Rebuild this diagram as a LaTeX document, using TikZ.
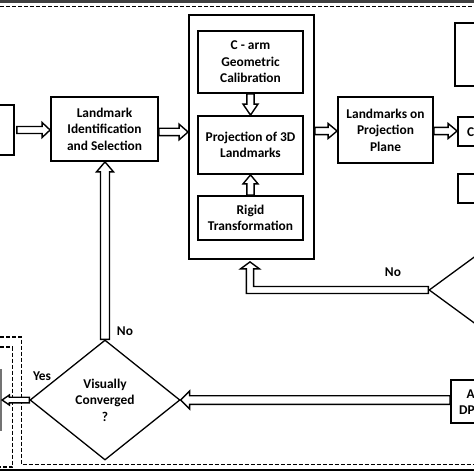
\documentclass[tikz,border=0pt]{standalone}
\usepackage{fontspec}
\setmainfont{Carlito}
\usetikzlibrary{shapes.geometric,calc}
\newcommand\lbl{\fontsize{13.4bp}{16.5bp}\selectfont\bfseries}
% hollow block arrows: #1 start, #2 tip, #3 shaft half width, #4 head half width, #5 head length
\newcommand\arR[5]{\draw[blk] let \p1=(#1), \p2=(#2) in
  ({\x1},{\y1+#3}) -- ({\x2-#5},{\y1+#3}) -- ({\x2-#5},{\y1+#4}) -- ({\x2},{\y1})
  -- ({\x2-#5},{\y1-#4}) -- ({\x2-#5},{\y1-#3}) -- ({\x1},{\y1-#3}) -- cycle;}
\newcommand\arL[5]{\draw[blk] let \p1=(#1), \p2=(#2) in
  ({\x1},{\y1+#3}) -- ({\x2+#5},{\y1+#3}) -- ({\x2+#5},{\y1+#4}) -- ({\x2},{\y1})
  -- ({\x2+#5},{\y1-#4}) -- ({\x2+#5},{\y1-#3}) -- ({\x1},{\y1-#3}) -- cycle;}
\newcommand\arU[5]{\draw[blk] let \p1=(#1), \p2=(#2) in
  ({\x1+#3},{\y1}) -- ({\x1+#3},{\y2-#5}) -- ({\x1+#4},{\y2-#5}) -- ({\x1},{\y2})
  -- ({\x1-#4},{\y2-#5}) -- ({\x1-#3},{\y2-#5}) -- ({\x1-#3},{\y1}) -- cycle;}
\newcommand\arD[5]{\draw[blk] let \p1=(#1), \p2=(#2) in
  ({\x1+#3},{\y1}) -- ({\x1+#3},{\y2+#5}) -- ({\x1+#4},{\y2+#5}) -- ({\x1},{\y2})
  -- ({\x1-#4},{\y2+#5}) -- ({\x1-#3},{\y2+#5}) -- ({\x1-#3},{\y1}) -- cycle;}
\begin{document}
\begin{tikzpicture}[x=1bp,y=-1bp,
  box/.style={draw, line width=1.8bp, inner sep=0pt, align=center, font=\lbl},
  sz/.style 2 args={minimum width=#1bp, minimum height=#2bp},
  blk/.style={draw, line width=1.4bp, fill=white, line join=miter},
  dia/.style={draw, diamond, line width=1.3bp, inner sep=0pt, align=center, font=\lbl},
  dsh/.style={line width=1.2bp, dash pattern=on 4bp off 2bp},
  lab/.style={font=\lbl, inner sep=0pt}]
\useasboundingbox (0,0) rectangle (474,474);
\fill[white] (0,0) rectangle (474,474);
% frame lines
\draw[line width=2.6bp, black!75] (0,1.3) -- (474,1.3);
\draw[dsh] (0,6.5) -- (474,6.5);
\draw[line width=1.5bp] (0,470) -- (474,470);
\draw[dsh] (0,337) -- (21.5,337) -- (21.5,464.5) -- (474,464.5);
\draw[dsh] (0,347) -- (12.5,347) -- (12.5,467) -- (0,467);
% boxes
\node[box, sz={40}{50}] (leftbox) at (-6,130) {};
\node[box, sz={107}{64}] (lm) at (104.5,129) {Landmark\\Identification\\and Selection};
\node[box, sz={125}{244}] (big) at (251.5,137) {};
\node[box, sz={105}{62}] (cal) at (250.5,62) {C - arm\\Geometric\\Calibration};
\node[box, sz={105}{58}] (proj) at (250.5,145) {Projection of 3D\\Landmarks};
\node[box, sz={105}{44}] (rigid) at (250.5,218) {Rigid\\Transformation};
\node[box, sz={95}{66}] (lpp) at (385.5,130) {Landmarks on\\Projection\\Plane};
\node[box, sz={44}{29}] (cbox) at (480,131.5) {};
\node[lab, anchor=east] (ctext) at (474.3,132) {C};
\node[box, sz={47}{63}] (tr) at (478.5,54.5) {};
\node[box, sz={44}{29}] (br) at (480,188.5) {};
\node[box, sz={49}{43}] (adp) at (475.5,401.5) {};
\node[lab, anchor=east, align=right] (adptext) at (475,402) {A\\DP};
\fill[black!55] (-5,369) rectangle (2.3,431);
\node[dia, sz={150}{110}] (rdia) at (504,290) {};
\node[dia, sz={150}{120}] (vc) at (105,400) {Visually\\Converged\\?};
% arrows
\arR{$(leftbox.east)+(2,0)$}{lm.west |- leftbox.east}{3.5bp}{7.5bp}{8bp}
\arR{lm.east |- 0,132}{big.west |- 0,132}{3.7bp}{7.8bp}{9bp}
\arD{cal.south}{proj.north}{3.6bp}{7.5bp}{11bp}
\arU{rigid.north}{proj.south}{3.6bp}{7.5bp}{9bp}
\arR{big.east |- 0,131}{lpp.west |- 0,131}{3.6bp}{7.5bp}{9bp}
\arR{lpp.east |- 0,131}{cbox.west |- 0,131}{3.6bp}{7.5bp}{9bp}
\arU{vc.north}{lm.south}{4.5bp}{8.5bp}{10bp}
\arL{adp.west |- vc.east}{vc.east}{4.3bp}{9bp}{9bp}
\arL{vc.west}{$(vc.west)+(-27.3,0)$}{2.8bp}{5bp}{7.3bp}
\draw[blk] let \p1=(rdia.west), \p2=($(big.south)+(-1.5,0)$) in
  ({\x1},{\y1+3.5bp}) -- ({\x2+3.6bp},{\y1+3.5bp}) -- ({\x2+3.6bp},{\y2-9bp})
  -- ({\x2+9.5bp},{\y2-9bp}) -- ({\x2},{\y2-2bp}) -- ({\x2-9.5bp},{\y2-9bp})
  -- ({\x2-3.6bp},{\y2-9bp}) -- ({\x2-3.6bp},{\y1-3.5bp}) -- ({\x1},{\y1-3.5bp}) -- cycle;
% labels
\node[lab] (no1) at (393,272) {No};
\node[lab] (no2) at (125,331) {No};
\node[lab] (yes) at (42,376) {Yes};
\end{tikzpicture}
\end{document}
